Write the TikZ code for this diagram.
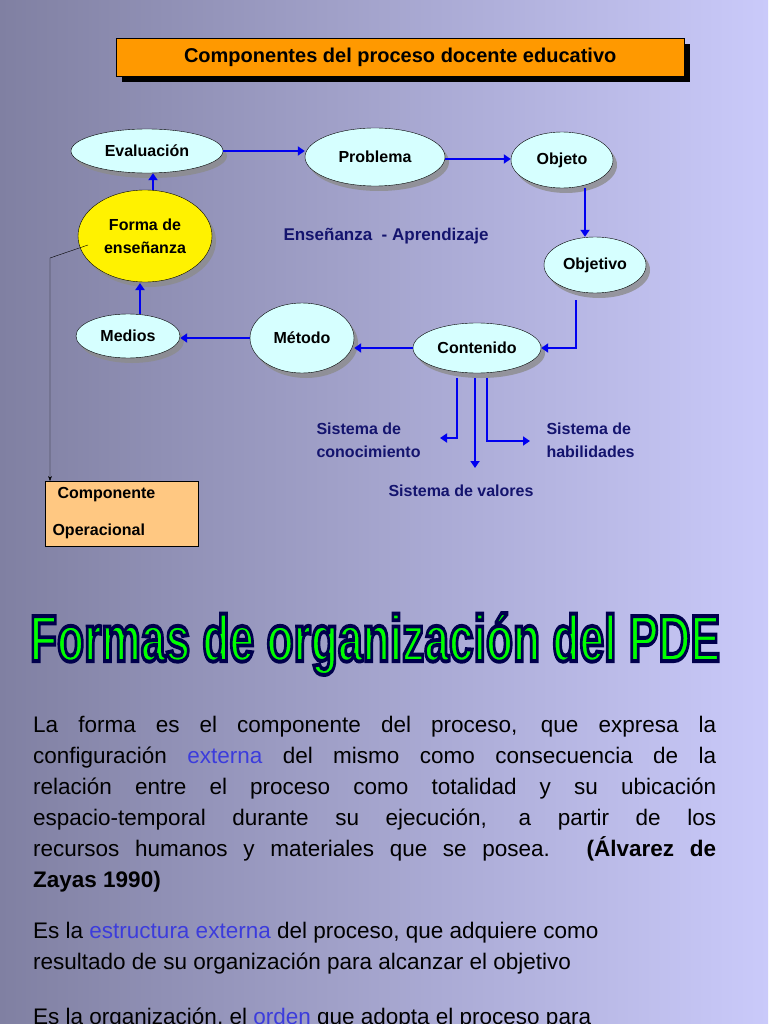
\documentclass[tikz,border=0pt]{standalone}
\usepackage{fontspec}
\setmainfont{Liberation Sans}
\usetikzlibrary{arrows.meta,shadows,shapes.geometric}
\definecolor{bgL}{RGB}{128,128,162}
\definecolor{bgR}{RGB}{202,202,250}
\definecolor{cyanfill}{RGB}{214,255,255}
\definecolor{navy}{RGB}{20,20,110}
\definecolor{arrblue}{RGB}{0,0,240}
\definecolor{orng}{RGB}{255,153,0}
\definecolor{peach}{RGB}{255,200,130}
\definecolor{linkblue}{RGB}{60,60,220}
\definecolor{titlegreen}{RGB}{0,255,0}
\newcommand{\jline}[1]{\makebox[683pt][s]{#1}}
\tikzset{
  ell/.style={ellipse,draw=black,fill=cyanfill,font=\bfseries\fontsize{16}{18}\selectfont,inner sep=0pt,
    drop shadow={shadow xshift=4pt,shadow yshift=-5pt,fill=black!45,opacity=.8}},
  barr/.style={draw=arrblue,line width=2.6pt,-{Triangle[length=7pt,width=9pt]}},
  lbl/.style={text=navy,font=\bfseries\fontsize{16}{23}\selectfont,align=left},
  body/.style={anchor=north west,inner sep=0pt,align=left,font=\fontsize{22.5}{31}\selectfont}
}
\begin{document}
\begin{tikzpicture}[x=1pt,y=-1pt]
\useasboundingbox (0,0) rectangle (768,1024);
\shade[left color=bgL,right color=bgR] (0,0) rectangle (768,1024);
\clip (0,0) rectangle (768,1024);
% title box
\fill[black] (122,44) rectangle (690,82);
\node[draw=black,fill=orng,minimum width=568pt,minimum height=38pt,anchor=north west,inner sep=0pt,
  font=\bfseries\fontsize{20}{22}\selectfont] (title) at (116,38) {Componentes del proceso docente educativo};
% nodes
\node[ell,minimum width=152pt,minimum height=44pt] (eval) at (147,151) {Evaluación};
\node[ell,minimum width=140pt,minimum height=58pt] (prob) at (375,157) {Problema};
\node[ell,minimum width=102pt,minimum height=56pt] (obj) at (562,160) {Objeto};
\node[ell,minimum width=102pt,minimum height=56pt] (objv) at (595,265) {Objetivo};
\node[ell,minimum width=128pt,minimum height=50pt] (cont) at (477,348) {Contenido};
\node[ell,minimum width=104pt,minimum height=70pt] (met) at (302,338) {Método};
\node[ell,minimum width=104pt,minimum height=44pt] (med) at (128,336) {Medios};
\node[ell,fill=yellow,minimum width=134pt,minimum height=92pt,align=center,
  font=\bfseries\fontsize{16}{23}\selectfont] (forma) at (145,236) {Forma de\\enseñanza};
\node[lbl,font=\bfseries\fontsize{17}{20}\selectfont] (ea) at (386,236) {Enseñanza\ \ - Aprendizaje};
% arrows
\draw[barr] (eval.east) -- (prob.west|-eval.east);
\draw[barr] (prob.east|-0,159) -- (obj.west|-0,159);
\draw[barr] (obj.south-|585,0) -- (objv.north-|585,0);
\draw[barr] (576,300) |- (cont.east);
\draw[barr] (cont.west) -- (met.east|-cont.west);
\draw[barr] (met.west) -- (med.east|-met.west);
\draw[barr] (med.north-|140,0) -- (140,283);
\draw[barr] (forma.north-|153,0) -- (eval.south-|153,0);
% content branches
\node[lbl] (sc) at (313,440) [anchor=west] {Sistema de\\conocimiento};
\node[lbl] (sh) at (543,440) [anchor=west] {Sistema de\\habilidades};
\node[lbl] (sv) at (461,491) {Sistema de valores};
\coordinate (c1) at (457,378);
\coordinate (c2) at (475,378);
\coordinate (c3) at (487,378);
\draw[barr] (c1) -- (457,438) -- (440,438);
\draw[barr] (c2) -- (475,468);
\draw[barr] (c3) -- (487,441) -- (530,441);
% componente operacional
\node[draw=black,fill=peach,minimum width=153pt,minimum height=65pt,anchor=north west,inner sep=0pt] (co) at (45,481) {};
\node[font=\bfseries\fontsize{16}{18}\selectfont,anchor=west] (co1) at (54,495) {Componente};
\node[font=\bfseries\fontsize{16}{18}\selectfont,anchor=west] (co2) at (49,531) {Operacional};
\draw[black,thin,-{Stealth[length=5pt]}] (88,245) -- (50,258) -- (co.north west-|50,0);
% big title
\node[text=titlegreen,inner sep=0pt] (big) at (375,644)
  {\resizebox{690pt}{48pt}{\bfseries\special{pdf:literal 2 Tr 0 0 0.3 RG 0.6 w}Formas de organización del PDE\special{pdf:literal 0 Tr}}};
% body text
\node[body] (p1) at (33,716)
  {\jline{La forma es el componente del proceso, que expresa la}\\
   \jline{configuración \textcolor{linkblue}{externa} del mismo como consecuencia de la}\\
   \jline{relación entre el proceso como totalidad y su ubicación}\\
   \jline{espacio-temporal durante su ejecución, a partir de los}\\
   \jline{recursos humanos y materiales que se posea. \textbf{(Álvarez de}}\\
   \textbf{Zayas 1990)}};
\node[body] (p2) at (33,922)
  {Es la \textcolor{linkblue}{estructura externa} del proceso, que adquiere como\\
   resultado de su organización para alcanzar el objetivo};
\node[body] (p3) at (33,1008)
  {Es la organización, el \textcolor{linkblue}{orden} que adopta el proceso para};
\end{tikzpicture}
\end{document}
